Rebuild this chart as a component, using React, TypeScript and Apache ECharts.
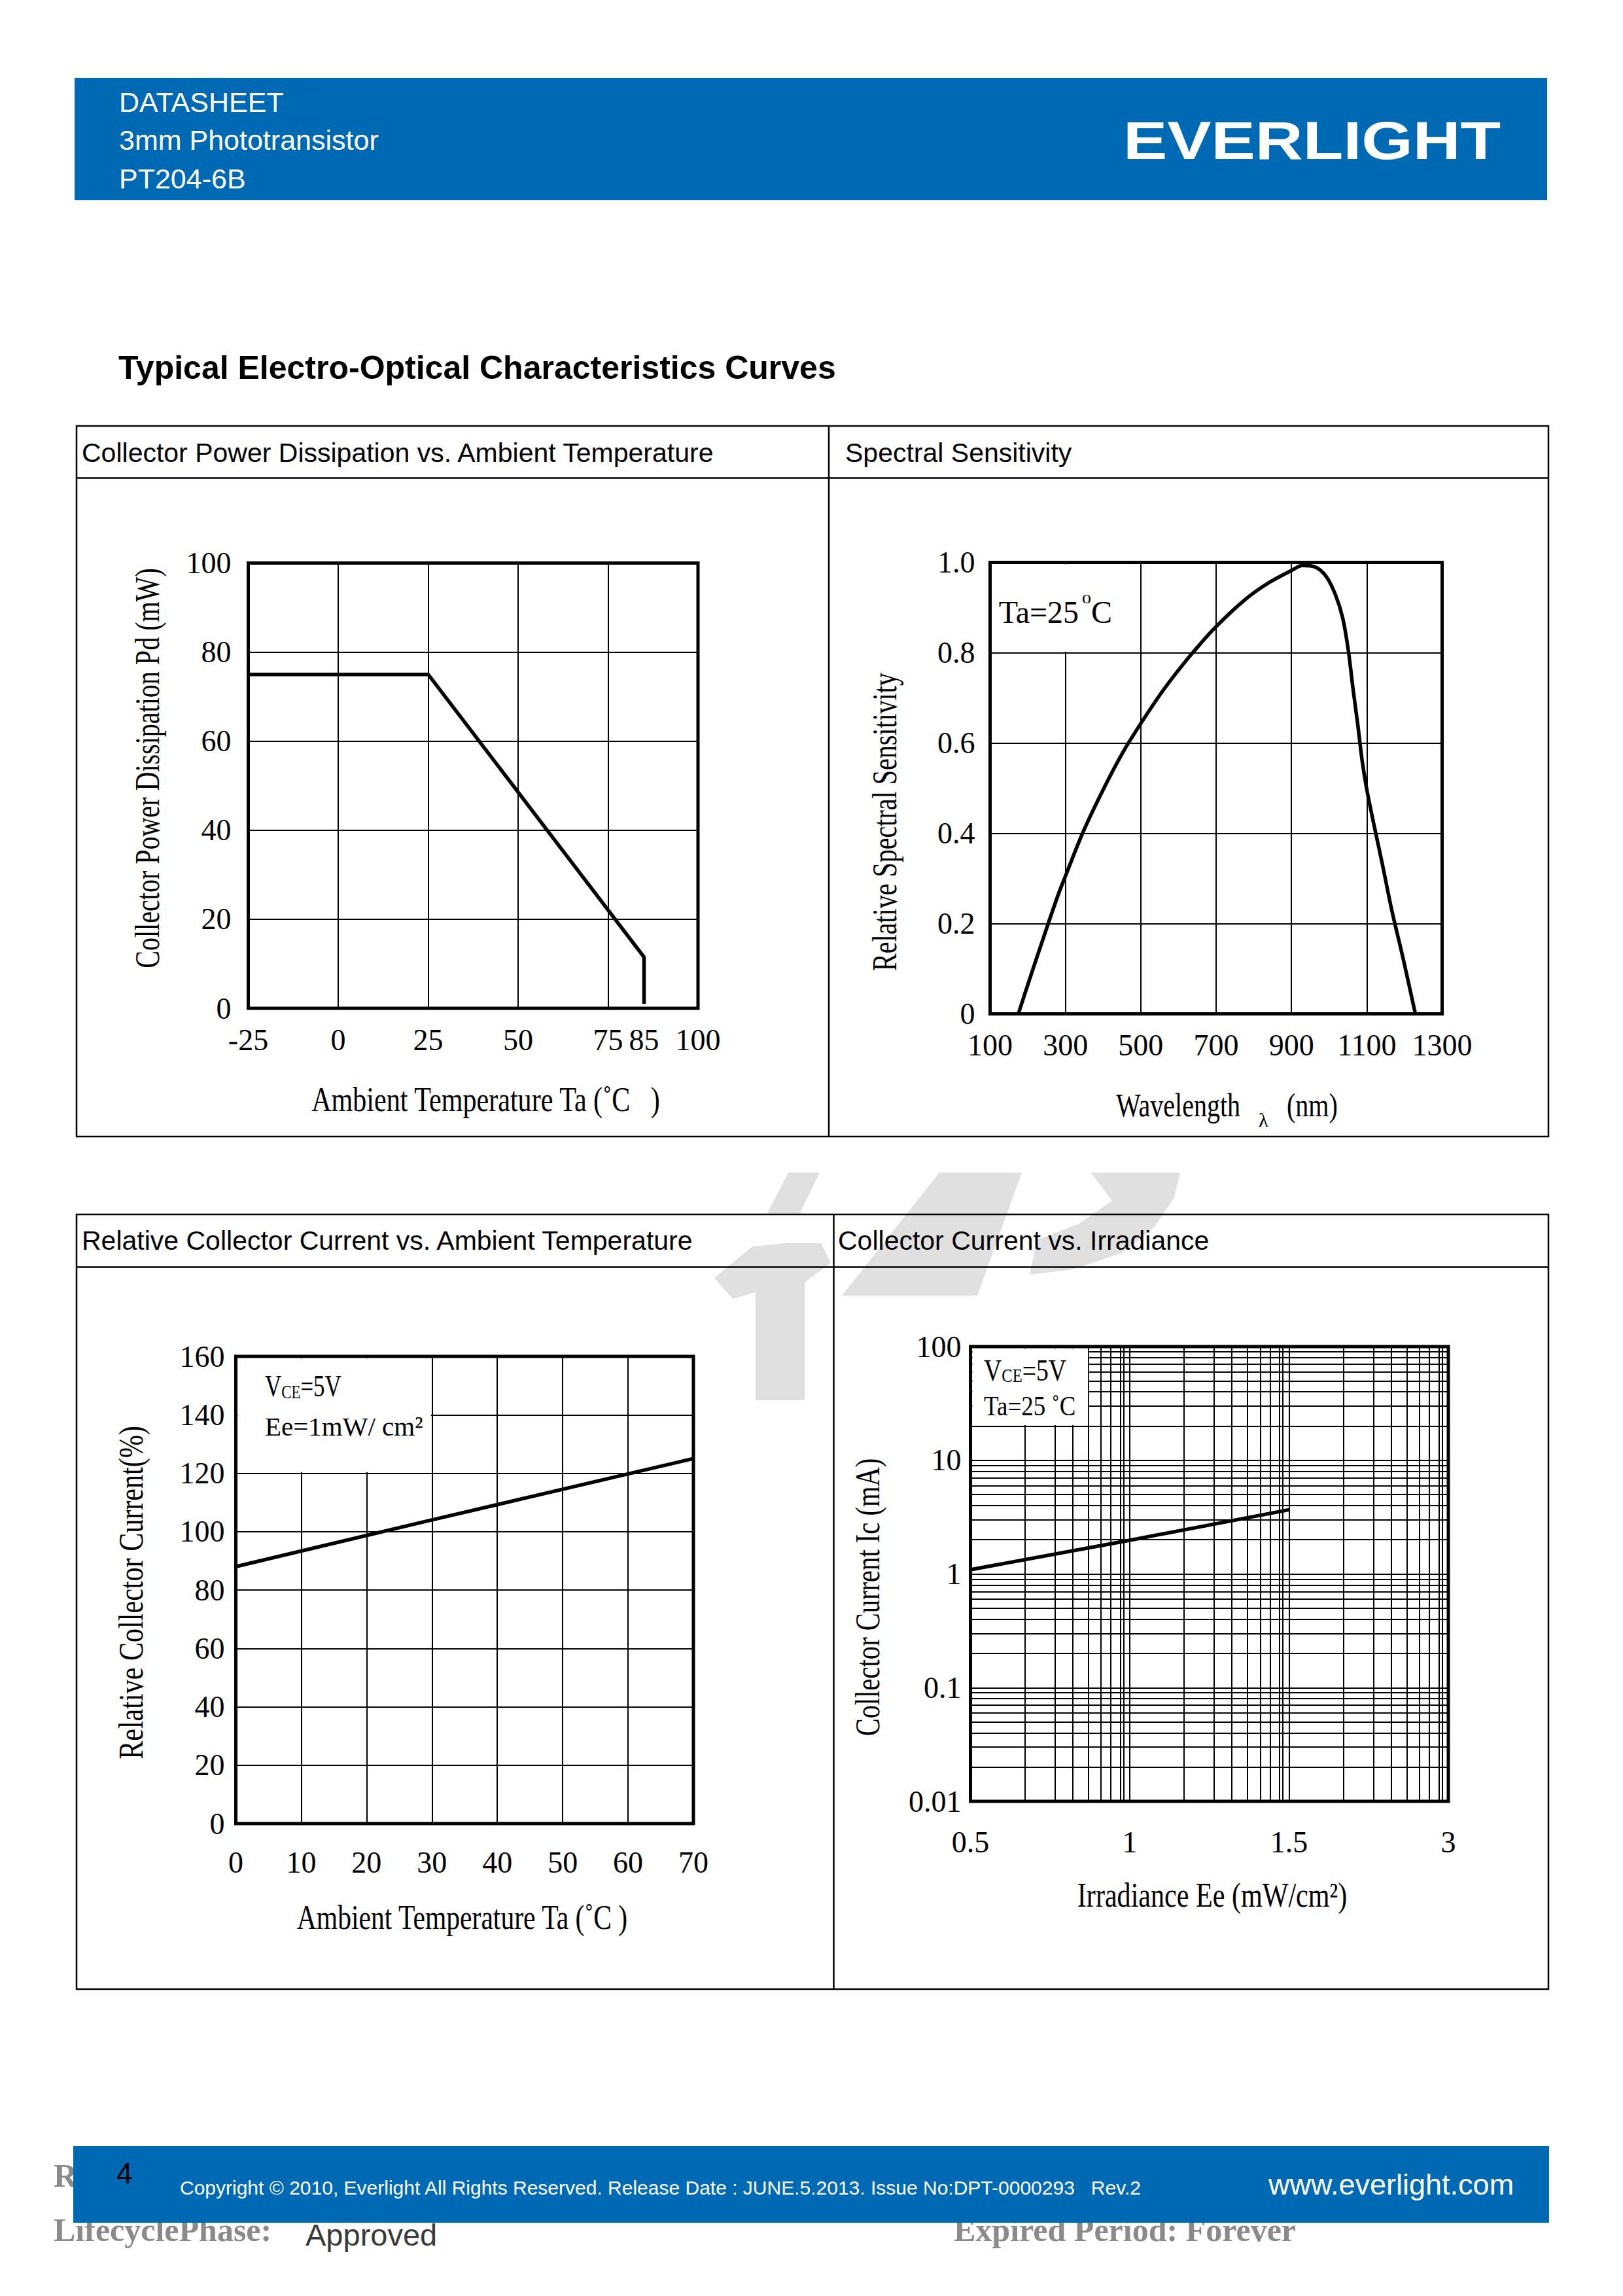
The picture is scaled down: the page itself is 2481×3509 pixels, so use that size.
import React, { useEffect, useRef } from 'react';
import * as echarts from 'echarts';

// ---------- data ----------
// Chart 1: Collector Power Dissipation vs. Ambient Temperature
const pdTemperature = [-25, 25, 85, 85];
const pdPower = [75, 75, 11.5, 1];
const pdTempLabels = [-25, 0, 25, 50, 75, 85, 100];

// Chart 2: Spectral Sensitivity
const wavelengthNm = [175, 205, 243, 280, 300, 348, 404, 453, 500, 552, 596, 639, 699, 776, 838, 900, 930, 962, 992, 1017, 1036, 1051, 1063, 1076, 1088, 1100, 1120, 1141, 1166, 1195, 1229];
const relSensitivity = [0, 0.077, 0.172, 0.262, 0.305, 0.405, 0.503, 0.58, 0.643, 0.708, 0.757, 0.801, 0.857, 0.917, 0.954, 0.982, 0.993, 0.99, 0.969, 0.928, 0.877, 0.805, 0.723, 0.641, 0.559, 0.497, 0.415, 0.333, 0.231, 0.128, 0];

// Chart 3: Relative Collector Current vs. Ambient Temperature
const rcTemperature = [0, 30, 70];
const rcRelCurrent = [88, 104, 125];

// Chart 4: Collector Current vs. Irradiance
const irradianceLabels = ['0.5', '1', '1.5', '3'];
const collectorCurrent = [1.09, 1.98, 3.67];
const irrGridFractions = [0.345, 0.526, 0.637, 0.744, 0.818, 0.883, 0.937, 0.965];
const icGridMultipliers = [2, 3, 4, 5, 6, 7, 8, 9];
const icDecades = [0.01, 0.1, 1, 10];

// ---------- layout ----------
const SERIF = '"Liberation Serif", "Times New Roman", serif';
const SANS = '"Liberation Sans", Arial, sans-serif';
const BLUE = '#0069B4';
const WM = '#E0E0E0';

const G1 = { left: 379.5, top: 860.5, width: 687.5, height: 680.5 };
const G2 = { left: 1513.5, top: 859.5, width: 691, height: 690 };
const G3 = { left: 360.5, top: 2073, width: 699.5, height: 714 };
const G4 = { left: 1483.5, top: 2058, width: 730.5, height: 695 };

function T(text: string, x: number, baseline: number, fs: number, o: any = {}) {
  const family = o.family || SERIF;
  const k = family === SANS ? 0.3465 : 0.3375;
  const style: any = {
    text,
    fill: o.fill || '#000',
    fontSize: fs,
    fontFamily: family,
    fontWeight: o.weight || 'normal',
    align: o.align || 'left',
    verticalAlign: 'middle',
    textAlign: o.align || 'left',
    textVerticalAlign: 'middle',
  };
  if (o.rich) style.rich = o.rich;
  return {
    type: 'text',
    x,
    y: baseline - k * fs,
    scaleX: o.scaleX ?? 1,
    z: o.z ?? 20,
    silent: true,
    style,
  };
}

function VT(text: string, cx: number, cy: number, fs: number, scaleX: number) {
  return {
    type: 'text',
    x: cx,
    y: cy,
    rotation: Math.PI / 2,
    scaleX,
    z: 20,
    silent: true,
    style: {
      text,
      fill: '#000',
      fontSize: fs,
      fontFamily: SERIF,
      align: 'center',
      verticalAlign: 'middle',
      textAlign: 'center',
      textVerticalAlign: 'middle',
    },
  };
}

const rectStroke = (x: number, y: number, w: number, h: number) => ({
  type: 'rect', shape: { x, y, width: w, height: h }, style: { fill: 'none', stroke: '#000', lineWidth: 2.5 }, z: 5, silent: true,
});
const line = (x1: number, y1: number, x2: number, y2: number) => ({
  type: 'line', shape: { x1, y1, x2, y2 }, style: { stroke: '#000', lineWidth: 2.5 }, z: 5, silent: true,
});
const whiteBox = (x1: number, y1: number, x2: number, y2: number) => ({
  type: 'rect', shape: { x: x1, y: y1, width: x2 - x1, height: y2 - y1 }, style: { fill: '#fff' }, z: 10, silent: true,
});
const poly = (pts: number[][]) => ({ type: 'polygon', shape: { points: pts }, style: { fill: WM }, z: 0, silent: true });

const xLin = (g: any, min: number, max: number, v: number) => g.left + ((v - min) / (max - min)) * g.width;
const yLin = (g: any, min: number, max: number, v: number) => g.top + ((max - v) / (max - min)) * g.height;
const yLog = (g: any, minE: number, maxE: number, v: number) => g.top + ((maxE - Math.log10(v)) / (maxE - minE)) * g.height;

const richVce = (fs: number, small: number) => ({
  a: { fontSize: fs, fontFamily: SERIF, verticalAlign: 'bottom', fill: '#000' },
  b: { fontSize: small, fontFamily: SERIF, verticalAlign: 'bottom', fill: '#000' },
});

function buildOption() {
  const split = { show: true, lineStyle: { color: '#000', width: 2, type: 'solid' } };
  const lab = (margin: number, extra: any = {}) => ({ fontFamily: SERIF, fontSize: 46, color: '#000', margin, ...extra });
  const bare = { axisLine: { show: false }, axisTick: { show: false } };
  const plain = (v: number) => String(v);

  const grids = [G1, G2, G3, G4].map((g) => ({
    ...g, show: true, borderColor: '#000', borderWidth: 5, backgroundColor: 'rgba(0,0,0,0)', containLabel: false, outerBoundsMode: 'none',
  }));

  const xAxis: any[] = [
    { type: 'value', gridIndex: 0, min: -25, max: 100, interval: 25, ...bare, splitLine: split, axisLabel: lab(25, { customValues: pdTempLabels, formatter: plain }) },
    { type: 'value', gridIndex: 1, min: 100, max: 1300, interval: 200, ...bare, splitLine: split, axisLabel: lab(25, { formatter: plain }) },
    { type: 'value', gridIndex: 2, min: 0, max: 70, interval: 10, ...bare, splitLine: split, axisLabel: lab(36, { formatter: plain }) },
    { type: 'category', gridIndex: 3, data: irradianceLabels, boundaryGap: false, ...bare, splitLine: { show: false }, axisLabel: lab(39, { interval: 0 }) },
    { type: 'value', gridIndex: 3, min: 0, max: 3, show: false, position: 'top' },
  ];
  const yAxis: any[] = [
    { type: 'value', gridIndex: 0, min: 0, max: 100, interval: 20, ...bare, splitLine: split, axisLabel: lab(26, { formatter: plain }) },
    { type: 'value', gridIndex: 1, min: 0, max: 1, interval: 0.2, ...bare, splitLine: split, axisLabel: lab(23, { formatter: (v: number) => (v === 0 ? '0' : v.toFixed(1)) }) },
    { type: 'value', gridIndex: 2, min: 0, max: 160, interval: 20, ...bare, splitLine: split, axisLabel: lab(17, { formatter: plain }) },
    { type: 'log', gridIndex: 3, logBase: 10, min: 0.01, max: 100, ...bare, splitLine: split, axisLabel: lab(14, { formatter: plain }) },
  ];

  const thick = { color: '#000', width: 5.5 };
  const verticals: any[] = [];
  [0, 1, 2].forEach((n) => {
    if (n > 0) verticals.push({ xAxis: n });
    irrGridFractions.forEach((f) => verticals.push({ xAxis: n + f }));
  });
  const horizontals: any[] = [];
  icDecades.forEach((d) => icGridMultipliers.forEach((m) => horizontals.push({ yAxis: +(m * d).toPrecision(6) })));

  const series: any[] = [
    { type: 'line', xAxisIndex: 0, yAxisIndex: 0, data: pdTemperature.map((t, i) => [t, pdPower[i]]), symbol: 'none', lineStyle: thick, z: 3 },
    { type: 'line', xAxisIndex: 1, yAxisIndex: 1, data: wavelengthNm.map((w, i) => [w, relSensitivity[i]]), symbol: 'none', smooth: 0.35, lineStyle: thick, z: 3 },
    { type: 'line', xAxisIndex: 2, yAxisIndex: 2, data: rcTemperature.map((t, i) => [t, rcRelCurrent[i]]), symbol: 'none', lineStyle: thick, z: 3 },
    { type: 'line', xAxisIndex: 3, yAxisIndex: 3, data: [...collectorCurrent, '-'], symbol: 'none', lineStyle: thick, z: 3 },
    {
      type: 'line', xAxisIndex: 4, yAxisIndex: 3, data: [[0, 1]], symbol: 'none', showSymbol: false, lineStyle: { width: 0, opacity: 0 }, silent: true,
      markLine: {
        silent: true, symbol: ['none', 'none'], label: { show: false }, animation: false,
        lineStyle: { color: '#000', width: 2, type: 'solid' }, emphasis: { disabled: true },
        data: [...verticals, ...horizontals],
      },
    },
  ];

  const els: any[] = [];

  // watermark fragments
  els.push(poly([[1205, 1792], [1253, 1792], [1222, 1856], [1172, 1856]]));
  els.push(poly([[1436, 1792], [1562, 1792], [1494, 1980], [1287, 1980]]));
  els.push(poly([[1667, 1792], [1804, 1792], [1795, 1830], [1765, 1875], [1715, 1915], [1640, 1940], [1574, 1948], [1585, 1895], [1650, 1870], [1700, 1835]]));
  els.push(poly([[1092, 1953], [1150, 1905], [1200, 1900], [1255, 1900], [1270, 1930], [1230, 1960], [1230, 2140], [1155, 2140], [1155, 1975], [1120, 1985]]));

  // header
  els.push({ type: 'rect', shape: { x: 114, y: 119, width: 2251, height: 187 }, style: { fill: BLUE }, z: 1, silent: true });
  els.push(T('DATASHEET', 182, 171, 43, { family: SANS, fill: '#fff' }));
  els.push(T('3mm Phototransistor', 182, 229, 43, { family: SANS, fill: '#fff' }));
  els.push(T('PT204-6B', 182, 288, 43, { family: SANS, fill: '#fff' }));
  els.push(T('EVERLIGHT', 1717, 243, 82, { family: SANS, fill: '#fff', weight: 'bold', scaleX: 1.23 }));

  // title
  els.push(T('Typical Electro-Optical Characteristics Curves', 181, 579, 50, { family: SANS, weight: 'bold' }));

  // tables
  els.push(rectStroke(117, 651, 2250, 1086));
  els.push(line(117, 730.5, 2367, 730.5));
  els.push(line(1267, 651, 1267, 1737));
  els.push(rectStroke(117, 1856, 2250, 1184));
  els.push(line(117, 1936.5, 2367, 1936.5));
  els.push(line(1274.5, 1856, 1274.5, 3040));

  els.push(T('Collector Power Dissipation vs. Ambient Temperature', 125, 706, 41, { family: SANS }));
  els.push(T('Spectral Sensitivity', 1292, 706, 41, { family: SANS }));
  els.push(T('Relative Collector Current vs. Ambient Temperature', 125, 1910, 41, { family: SANS }));
  els.push(T('Collector Current vs. Irradiance', 1281, 1910, 41, { family: SANS }));

  // chart 1 titles
  els.push(VT('Collector Power Dissipation Pd (mW)', 225.5, 1174, 52, 0.77));
  els.push(T('Ambient Temperature Ta (˚C   )', 742.5, 1698, 52, { align: 'center', scaleX: 0.81 }));

  // chart 2 titles + annotation
  els.push(VT('Relative Spectral Sensitivity', 1352.5, 1256, 52, 0.77));
  els.push(T('Wavelength', 1706, 1706, 50, { scaleX: 0.8 }));
  els.push(T('λ', 1924, 1722, 30, {}));
  els.push(T('(nm)', 1967, 1706, 50, { scaleX: 0.8 }));
  els.push(whiteBox(G2.left + 3, G2.top + 3, xLin(G2, 100, 1300, 500) - 1.5, yLin(G2, 0, 1, 0.8) - 1.5));
  els.push(T('Ta=25', 1526.7, 951.7, 48, {}));
  els.push(T('o', 1654, 922, 28, {}));
  els.push(T('C', 1668, 951.7, 48, {}));

  // chart 3 titles + annotation
  els.push(VT('Relative Collector Current(%)', 200.5, 2434, 52, 0.81));
  els.push(T('Ambient Temperature Ta (˚C )', 706.5, 2948, 52, { align: 'center', scaleX: 0.8 }));
  els.push(whiteBox(G3.left + 3, G3.top + 3, xLin(G3, 0, 70, 30) - 1.5, yLin(G3, 0, 160, 120) - 1.5));
  els.push(T('{a|V}{b|CE}{a|=5V}', 405, 2134, 46, { rich: richVce(46, 30), scaleX: 0.76 }));
  els.push(T('Ee=1mW/ cm²', 405, 2194, 41, {}));

  // chart 4 titles + annotation
  els.push(VT('Collector Current Ic (mA)', 1326.5, 2441, 52, 0.78));
  els.push(T('Irradiance Ee (mW/cm²)', 1853, 2913.7, 52, { align: 'center', scaleX: 0.81 }));
  els.push(whiteBox(G4.left + 3, G4.top + 3, G4.left + (irrGridFractions[3] / 3) * G4.width - 1.5, yLog(G4, -2, 2, 20) - 1.5));
  els.push(T('{a|V}{b|CE}{a|=5V}', 1504, 2110, 46, { rich: richVce(46, 30), scaleX: 0.82 }));
  els.push(T('Ta=25 ˚C', 1504, 2163.3, 43, { scaleX: 0.86 }));

  // footer
  els.push(T('R', 82, 3342, 50, { fill: '#8a8a8a', weight: 'bold', z: 0 }));
  els.push({ type: 'rect', shape: { x: 112, y: 3280, width: 2256, height: 117 }, style: { fill: BLUE }, z: 1, silent: true });
  els.push(T('4', 178, 3337, 44, { family: SANS, fill: '#000' }));
  els.push(T('Copyright © 2010, Everlight All Rights Reserved. Release Date : JUNE.5.2013. Issue No:DPT-0000293   Rev.2', 275, 3354, 30, { family: SANS, fill: '#fff' }));
  els.push(T('www.everlight.com', 1939, 3354, 45, { family: SANS, fill: '#fff' }));
  els.push(T('LifecyclePhase:', 82, 3425, 50, { fill: '#8a8a8a', weight: 'bold', z: 0 }));
  els.push(T('Approved', 467, 3432, 47, { family: SANS, fill: '#3a3a3a', z: 0 }));
  els.push(T('Expired Period: Forever', 1458, 3425, 50, { fill: '#8a8a8a', weight: 'bold', z: 0 }));

  return {
    animation: false,
    backgroundColor: '#ffffff',
    grid: grids,
    xAxis,
    yAxis,
    series,
    graphic: { elements: els },
  };
}

export default function App() {
  const ref = useRef<HTMLDivElement>(null);
  useEffect(() => {
    if (!ref.current) return;
    const chart = echarts.init(ref.current, null, { renderer: 'svg', width: 2481, height: 3509 });
    chart.setOption(buildOption() as any);
    return () => chart.dispose();
  }, []);
  return (
    <div
      ref={ref}
      style={{ position: 'absolute', left: 0, top: 0, width: 2481, height: 3509, background: '#fff' }}
    />
  );
}
